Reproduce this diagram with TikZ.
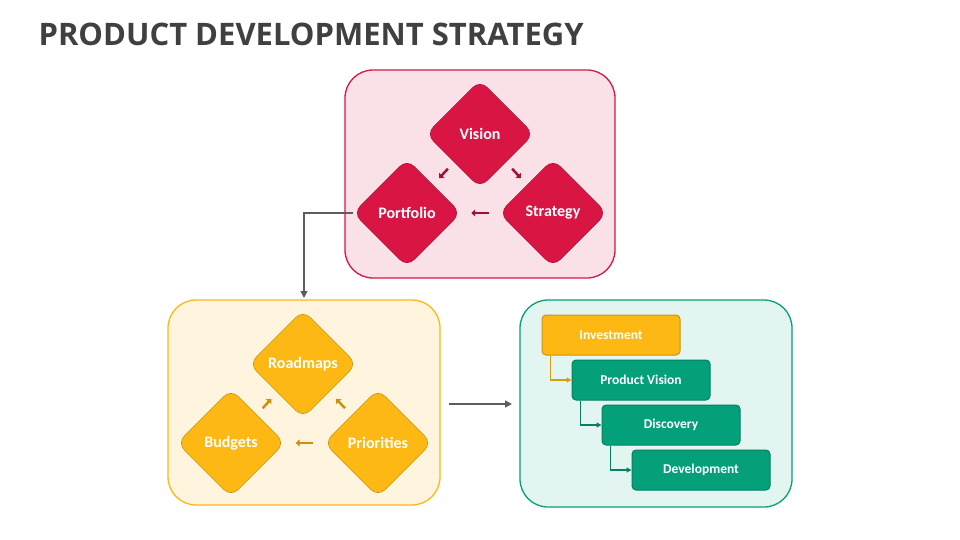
\documentclass[tikz,border=0pt]{standalone}
\usepackage{fontspec}
\setmainfont{Carlito}
\newfontfamily\titlefont{Open Sans}
\usetikzlibrary{calc,arrows.meta}
\definecolor{cred}{HTML}{D81543}
\definecolor{cyel}{HTML}{FDB813}
\definecolor{cgrn}{HTML}{04A07A}
\definecolor{cdark}{HTML}{404040}
\tikzset{
 panel/.style={rounded corners=28pt,line width=1.3pt},
 dia/.style={draw=#1!80!black,fill=#1,rotate=45,minimum size=76pt,rounded corners=10pt,line width=0.6pt,
   text=white,font=\bfseries\fontsize{16}{18}\selectfont,inner sep=0pt},
 smallarr/.style={-{Triangle[length=4pt,width=7pt]},line width=2.5pt,draw=#1},
 stepbox/.style={draw=#1!80!black,fill=#1,rounded corners=4pt,minimum width=138pt,minimum height=40pt,
   text=white,font=\bfseries\fontsize{13.5}{15}\selectfont,line width=1pt},
 elbow/.style={-{Triangle[length=5pt,width=5pt]},line width=1.3pt,draw=#1},
}
\begin{document}
\begin{tikzpicture}[x=1pt,y=-1pt]
\useasboundingbox (0,0) rectangle (960,540);
\node[anchor=west,font=\titlefont\bfseries\fontsize{31}{34}\selectfont,text=cdark] (title) at (35,34) {PRODUCT DEVELOPMENT STRATEGY};
% panels
\draw[panel,draw=cred,fill=cred!13] (345,70) rectangle (615,278);
\draw[panel,draw=cyel,fill=cyel!14] (168,300) rectangle (440,505);
\draw[panel,draw=cgrn,fill=cgrn!11] (520,300) rectangle (792,507);
% red diamonds
\node[dia=cred] (vis) at (480,134) {\rotatebox{-45}{Vision}};
\node[dia=cred] (por) at (407,213) {\rotatebox{-45}{Portfolio}};
\node[dia=cred] (str) at (553,213) {\rotatebox{-45}{Strategy}};
\draw[smallarr=cred!75!black] ($(vis)!0.44!(por)$) -- ($(vis)!0.56!(por)$);
\draw[smallarr=cred!75!black] ($(vis)!0.44!(str)$) -- ($(vis)!0.56!(str)$);
\draw[smallarr=cred!75!black] ($(str)!0.44!(por)$) -- ($(str)!0.56!(por)$);
% yellow diamonds
\node[dia=cyel] (road) at (303,364) {\rotatebox{-45}{Roadmaps}};
\node[dia=cyel] (bud) at (231,443) {\rotatebox{-45}{Budgets}};
\node[dia=cyel] (pri) at (378,443) {\rotatebox{-45}{Priorities}};
\draw[smallarr=cyel!80!black] ($(bud)!0.44!(road)$) -- ($(bud)!0.56!(road)$);
\draw[smallarr=cyel!80!black] ($(pri)!0.44!(road)$) -- ($(pri)!0.56!(road)$);
\draw[smallarr=cyel!80!black] ($(pri)!0.44!(bud)$) -- ($(pri)!0.56!(bud)$);
% main connectors
\coordinate (yin) at (304,298);
\draw[-{Triangle[length=7pt,width=7pt]},line width=1.5pt,draw=cdark!85] (por.north west) -| (yin);
\coordinate (ga) at (449,404);
\coordinate (gb) at (512,404);
\draw[-{Triangle[length=7pt,width=7pt]},line width=1.5pt,draw=cdark!85] (ga) -- (gb);
% steps
\node[stepbox=cyel] (inv) at (611,335) {Investment};
\node[stepbox=cgrn] (pv) at (641,380) {Product Vision};
\node[stepbox=cgrn] (dis) at (671,425) {Discovery};
\node[stepbox=cgrn] (dev) at (701,470) {Development};
\draw[elbow=cyel!85!black] (inv.south west) ++(9,0) |- (pv.west);
\draw[elbow=cgrn!80!black] (pv.south west) ++(9,0) |- (dis.west);
\draw[elbow=cgrn!80!black] (dis.south west) ++(9,0) |- (dev.west);
\end{tikzpicture}
\end{document}
